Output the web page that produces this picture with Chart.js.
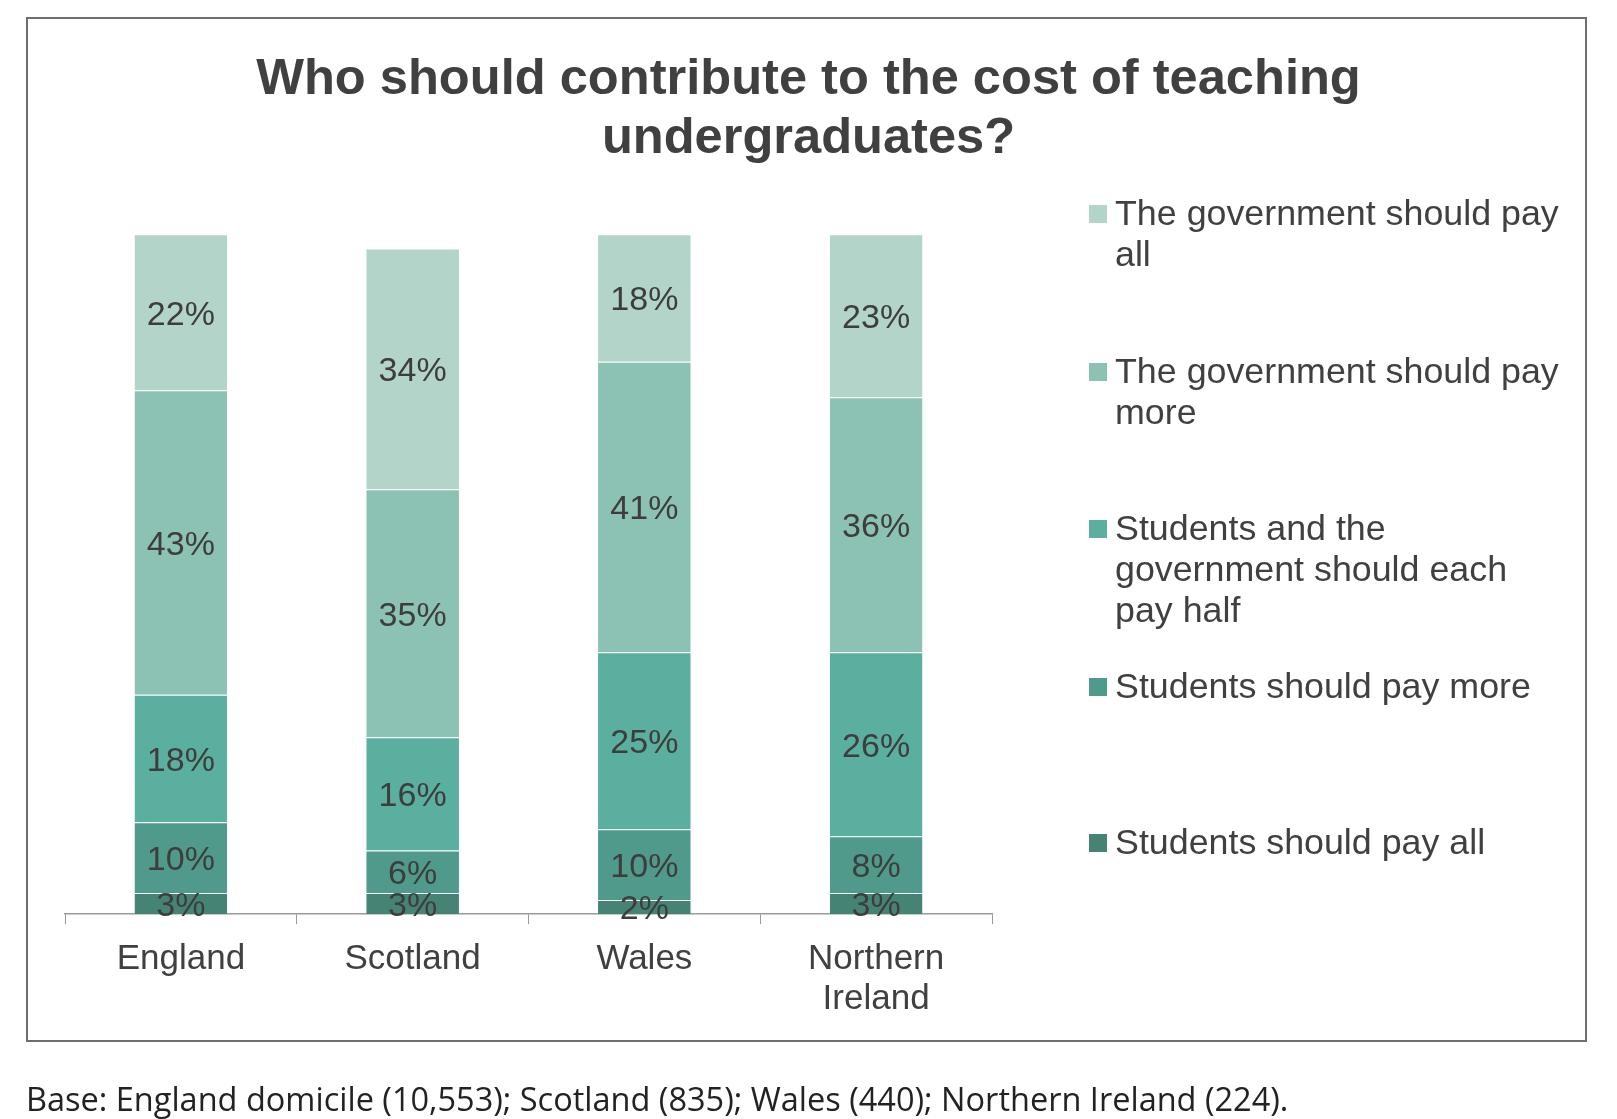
<!DOCTYPE html>
<html>
<head>
<meta charset="utf-8">
<script src="https://cdn.jsdelivr.net/npm/chart.js@4/dist/chart.umd.min.js"></script>
<style>
  body { margin: 0; background: #fff; width: 1617px; height: 1119px; position: relative; overflow: hidden; }
  #frame { position: absolute; left: 26px; top: 17px; width: 1557px; height: 1021px; border: 2px solid #6e6e6e; }
  #chart { position: absolute; left: 0; top: 0; }
  #title { position: absolute; left: 0; width: 1617px; top: 47px; text-align: center; font-family: "Liberation Sans", Arial, sans-serif; font-weight: bold; font-size: 50.6px; line-height: 59px; color: #404040; }
  #legend { position: absolute; left: 1089px; top: 0; font-family: "Liberation Sans", Arial, sans-serif; font-size: 35.8px; line-height: 41px; color: #404040; }
  .item { position: absolute; left: 0; width: 490px; padding-left: 26px; }
  .item span.box { position: absolute; left: 0; top: 12px; width: 18px; height: 18px; }
  #footer { position: absolute; left: 26px; top: 1076px; font-family: "Open Sans", sans-serif; font-size: 32.5px; color: #222; white-space: nowrap; }
</style>
</head>
<body>
<div id="frame"></div>
<canvas id="chart" width="1617" height="1119"></canvas>
<div id="title">Who should contribute to the cost of teaching<br>undergraduates?</div>
<div id="legend"></div>
<div id="footer">Base: England domicile (10,553); Scotland (835); Wales (440); Northern Ireland (224).</div>
<script>
const categories = [['England'], ['Scotland'], ['Wales'], ['Northern', 'Ireland']];

// bottom of the stack first
const studentsAll = [3, 3, 2, 3];
const studentsMore = [10, 6, 10, 8];
const eachHalf = [18, 16, 25, 26];
const govMore = [43, 35, 41, 36];
const govAll = [22, 34, 18, 23];

const seriesNames = [
  'Students should pay all',
  'Students should pay more',
  'Students and the government should each pay half',
  'The government should pay more',
  'The government should pay all'
];
const seriesColors = ['#458475', '#4f9a8a', '#5aaf9e', '#8cc2b3', '#b3d5c9'];
const seriesValues = [studentsAll, studentsMore, eachHalf, govMore, govAll];

// legend text lines, top to bottom as in the picture
const legendLines = [
  ['The government should pay', 'all'],
  ['The government should pay', 'more'],
  ['Students and the', 'government should each', 'pay half'],
  ['Students should pay more'],
  ['Students should pay all']
];
const legendTops = [193, 351, 508, 666, 822];

const font = '"Liberation Sans", Arial, sans-serif';

// draws the % labels in the middle of each segment
const segmentLabels = {
  id: 'segmentLabels',
  afterDatasetsDraw(chart) {
    const ctx = chart.ctx;
    ctx.save();
    ctx.font = '34px ' + font;
    ctx.fillStyle = '#3d3d3d';
    ctx.textAlign = 'center';
    ctx.textBaseline = 'middle';
    chart.data.datasets.forEach((ds, i) => {
      chart.getDatasetMeta(i).data.forEach((bar, j) => {
        const mid = (bar.y + bar.base) / 2;
        ctx.fillText(ds.data[j] + '%', bar.x, mid + 3);
      });
    });
    ctx.restore();
  }
};

const chart = new Chart(document.getElementById('chart'), {
  type: 'bar',
  data: {
    labels: categories,
    datasets: seriesValues.map((vals, i) => ({
      label: seriesNames[i],
      data: vals,
      backgroundColor: seriesColors[i],
      borderColor: 'rgba(255,255,255,0.07)',
      borderWidth: { top: 1 },
      borderSkipped: false,
      categoryPercentage: 1,
      barPercentage: 0.4
    }))
  },
  options: {
    responsive: false,
    animation: false,
    layout: { padding: { left: 65, right: 625, top: 206, bottom: 85 } },
    plugins: {
      legend: { display: false },
      tooltip: { enabled: false },
      title: { display: false }
    },
    scales: {
      x: {
        stacked: true,
        grid: { display: true, drawOnChartArea: false, drawTicks: true, tickLength: 10, color: '#9a9a9a', offset: true },
        border: { display: true, color: '#9a9a9a', width: 1.5 },
        ticks: { color: '#404040', padding: 15, font: { family: font, size: 35, lineHeight: 1.14 } }
      },
      y: {
        stacked: true,
        display: false,
        min: 0,
        max: 100
      }
    }
  },
  plugins: [segmentLabels]
});

// html legend built from the chart datasets, reversed to match the stack
const legend = document.getElementById('legend');
const ds = chart.data.datasets;
for (let k = 0; k < ds.length; k++) {
  const d = ds[ds.length - 1 - k];
  const item = document.createElement('div');
  item.className = 'item';
  item.style.top = legendTops[k] + 'px';
  const box = document.createElement('span');
  box.className = 'box';
  box.style.background = d.backgroundColor;
  item.appendChild(box);
  item.insertAdjacentHTML('beforeend', legendLines[k].join('<br>'));
  legend.appendChild(item);
}
</script>
</body>
</html>
